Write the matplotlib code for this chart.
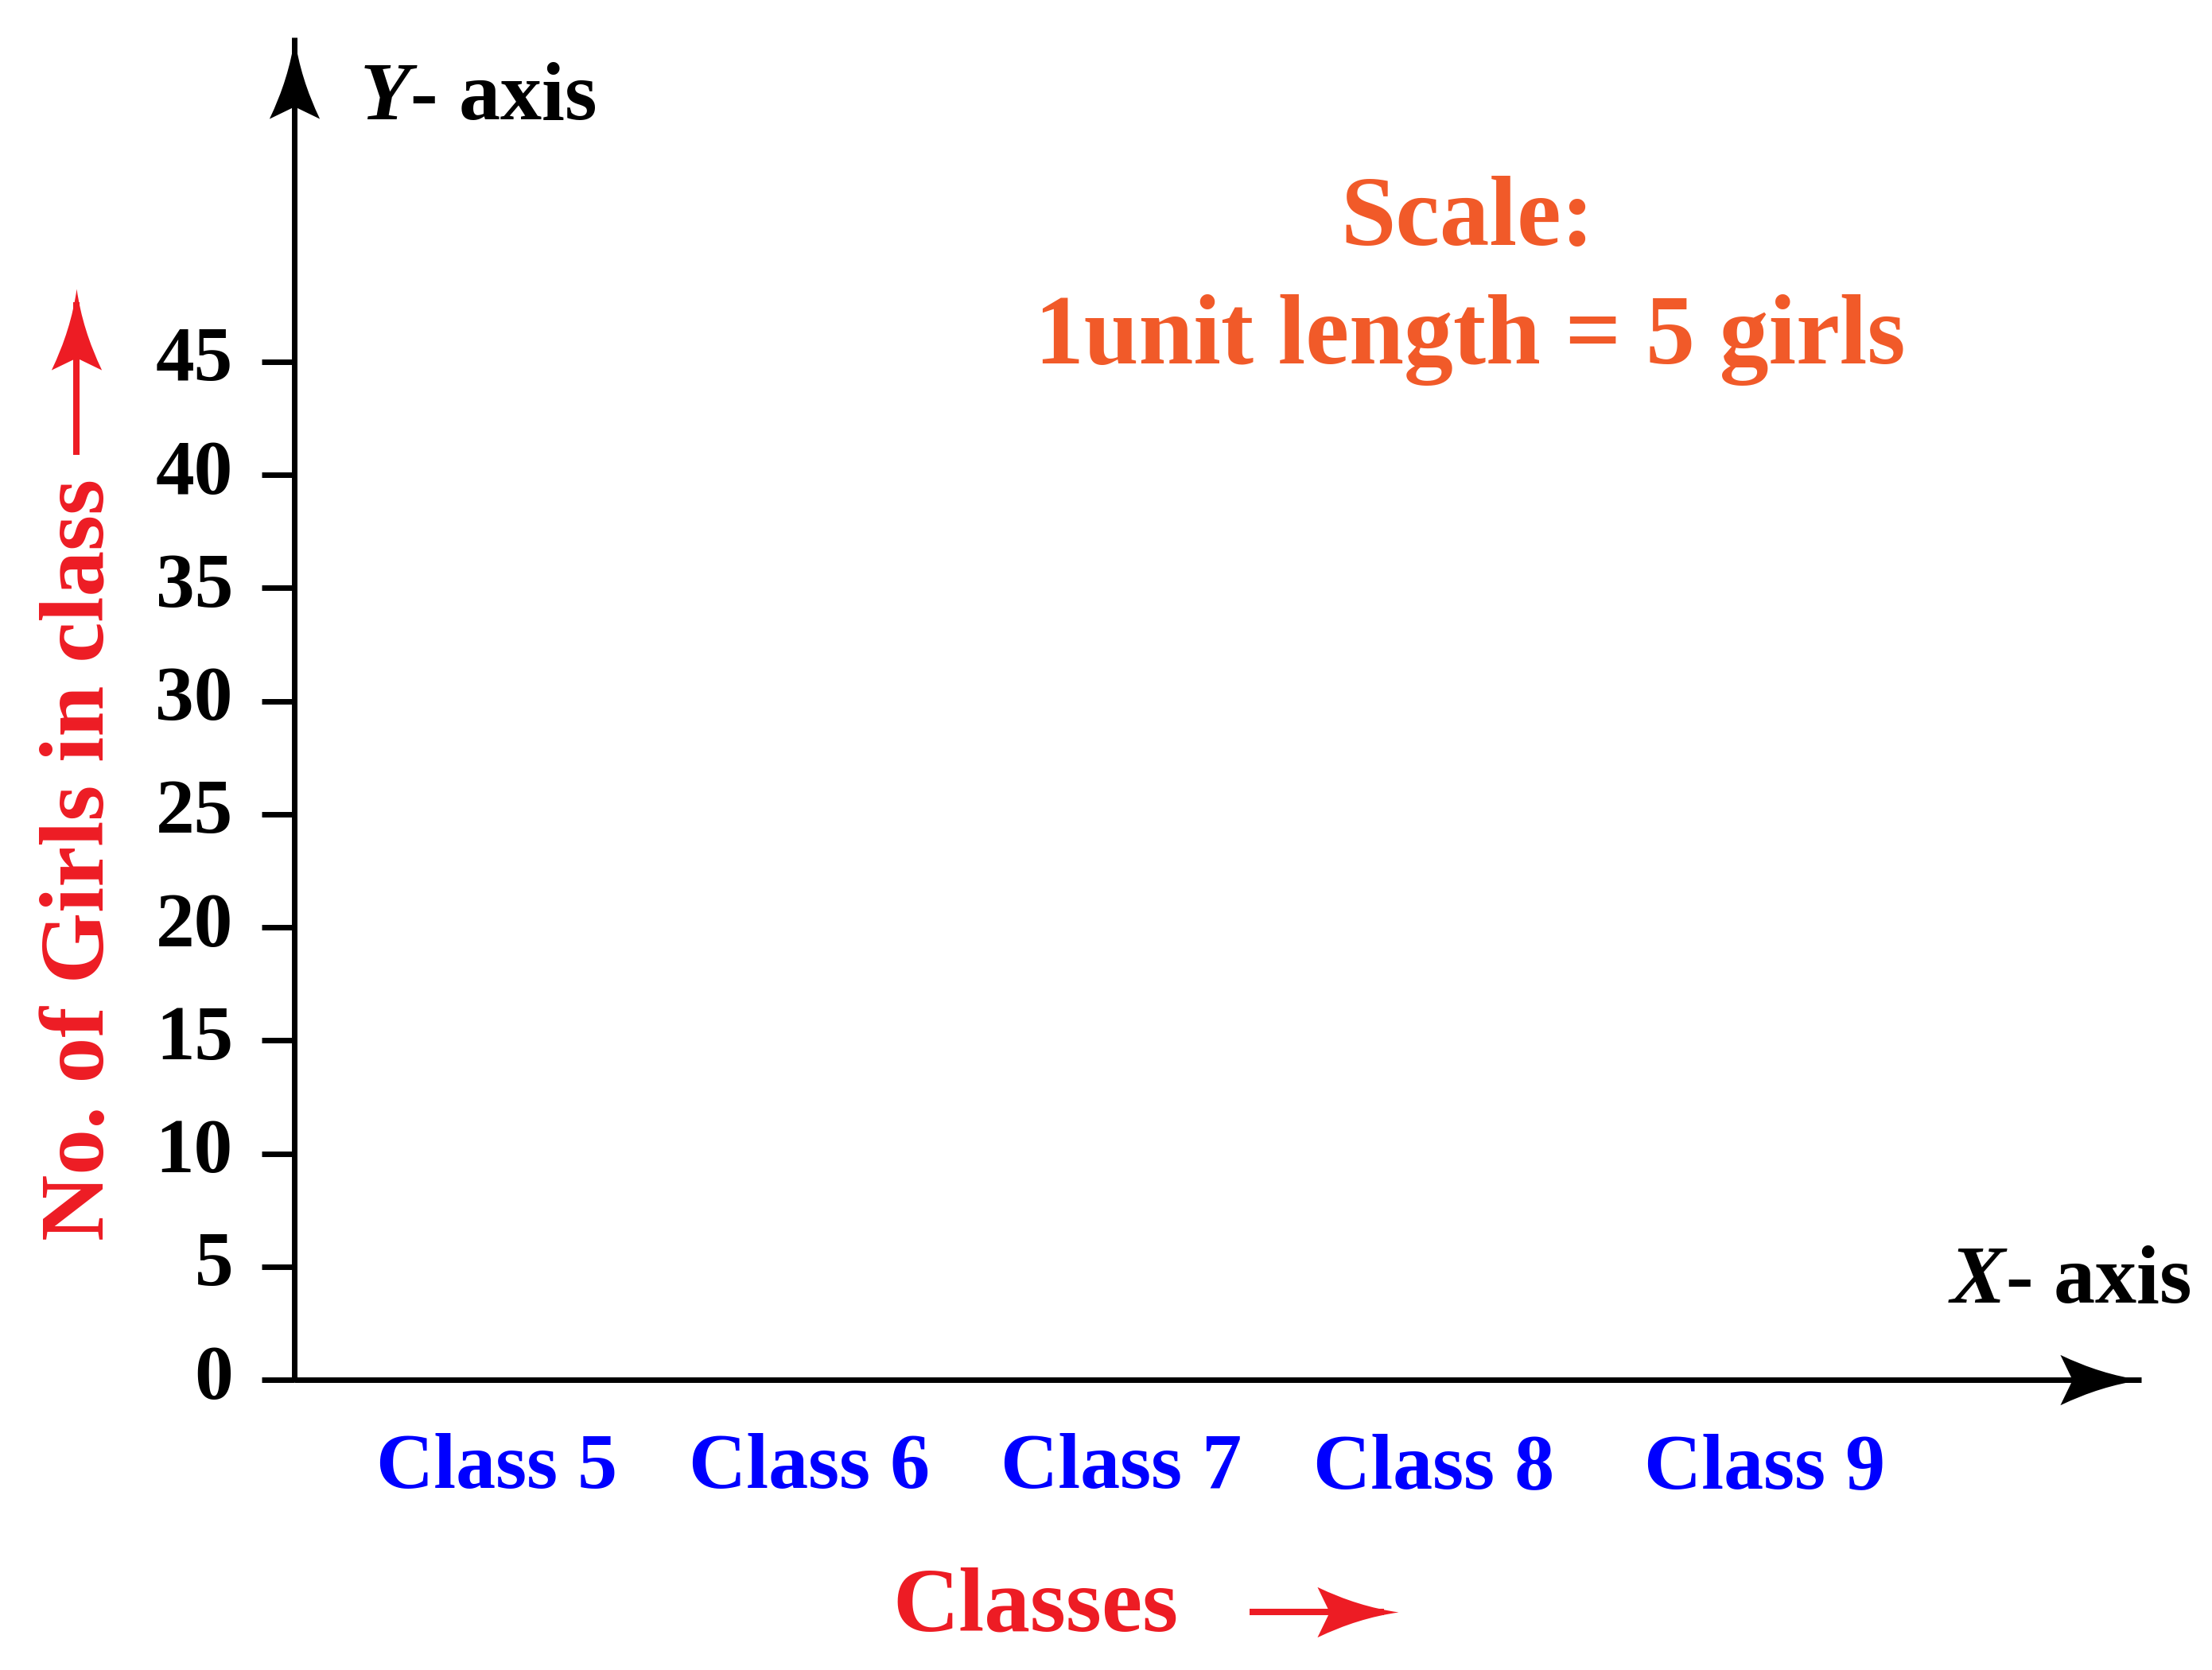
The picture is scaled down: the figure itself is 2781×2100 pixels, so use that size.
import numpy as np
import matplotlib
matplotlib.use("Agg")
import matplotlib.pyplot as plt
from matplotlib.path import Path

plt.rcParams['font.family'] = ['Liberation Serif', 'DejaVu Serif']
plt.rcParams['font.weight'] = 'bold'
plt.rcParams['mathtext.fontset'] = 'custom'
plt.rcParams['mathtext.it'] = 'Liberation Serif:italic:bold'
plt.rcParams['mathtext.rm'] = 'Liberation Serif:bold'
plt.rcParams['mathtext.bf'] = 'Liberation Serif:bold'

# ---- data ----
categories = ["Class 5", "Class 6", "Class 7", "Class 8", "Class 9"]
y_ticks = [0, 5, 10, 15, 20, 25, 30, 35, 40, 45]
scale_title = "Scale:"
scale_text = "1unit length = 5 girls"
x_label = "Classes"
y_label = "No. of Girls in class"

# layout
W, H = 2781, 2100
def fx(px): return px / W
def fy(py): return 1 - py / H

x_pos = [0, 1, 2, 3, 4.06]
RED = '#ED1C24'
ORANGE = '#F15A29'
BLUE = '#0000FF'

fig = plt.figure(figsize=(W / 100, H / 100), dpi=100)
fig.patch.set_facecolor('white')

ax = fig.add_axes([fx(370), fy(1735), fx(2692) - fx(370), fy(47) - fy(1735)])
ax.set_facecolor('none')
ax.set_ylim(0, 59.34)
ax.set_xlim(-0.6497, 5.266)
for s in ['top', 'right']:
    ax.spines[s].set_visible(False)
for s in ['left', 'bottom']:
    ax.spines[s].set_linewidth(5)
    ax.spines[s].set_color('black')
    ax.spines[s].set_capstyle('butt')
# fill the corner square
ax.plot([0], [0], marker='s', ms=5, mew=0, color='black',
        transform=ax.transAxes, clip_on=False)

ax.set_yticks(y_ticks)
ax.set_yticklabels([str(v) for v in y_ticks])
ax.tick_params(axis='y', length=29.5, width=5, pad=26, labelsize=70, color='black')
ax.set_xticks(x_pos)
ax.set_xticklabels(categories)
ax.tick_params(axis='x', length=0, pad=48, labelsize=72, labelcolor=BLUE)
for lab in ax.get_yticklabels():
    lab.set_fontweight('bold')
    lab.set_verticalalignment('center')
for lab in ax.get_xticklabels():
    lab.set_fontweight('bold')

# notched arrowhead marker (tip at origin, pointing +x)
def head_path(angle=0):
    verts = np.array([
        [0, 0], [-0.5, 0.07], [-1, 0.31],
        [-0.85, 0],
        [-1, -0.31], [-0.5, -0.07], [0, 0], [0, 0]])
    codes = [Path.MOVETO, Path.CURVE3, Path.CURVE3, Path.LINETO,
             Path.LINETO, Path.CURVE3, Path.CURVE3, Path.CLOSEPOLY]
    t = np.deg2rad(angle)
    R = np.array([[np.cos(t), -np.sin(t)], [np.sin(t), np.cos(t)]])
    return Path(verts @ R.T, codes)

MS = 147
ax.plot([1], [0], marker=head_path(0), ms=MS, color='black', mew=0,
        transform=ax.transAxes, clip_on=False)
ax.plot([0], [1], marker=head_path(90), ms=MS, color='black', mew=0,
        transform=ax.transAxes, clip_on=False)

# overlay for decorations in pixel coordinates
deco = fig.add_axes([0, 0, 1, 1])
deco.set_xlim(0, W)
deco.set_ylim(H, 0)
deco.axis('off')
deco.patch.set_visible(False)

deco.plot([1571, 1740], [2027, 2027], color=RED, lw=5.8, solid_capstyle='butt')
deco.plot([1758], [2027], marker=head_path(0), ms=MS, color=RED, mew=0)
deco.plot([96, 96], [572, 380], color=RED, lw=5.8, solid_capstyle='butt')
deco.plot([96], [363], marker=head_path(90), ms=MS, color=RED, mew=0)

deco.text(452, 150, r"$Y$- axis", fontsize=75, fontweight='bold', color='black',
          ha='left', va='baseline')
deco.text(2755, 1638, r"$X$- axis", fontsize=75, fontweight='bold', color='black',
          ha='right', va='baseline')
deco.text(1845, 308, scale_title, fontsize=90, fontweight='bold', color=ORANGE,
          ha='center', va='baseline')
deco.text(1848, 457, scale_text, fontsize=89, fontweight='bold', color=ORANGE,
          ha='center', va='baseline')
deco.text(1122, 2051, x_label, fontsize=83, fontweight='bold', color=RED,
          ha='left', va='baseline')
deco.text(130, 1081, y_label, fontsize=83, fontweight='bold', color=RED,
          ha='center', va='baseline', rotation=90, rotation_mode='anchor')

fig.savefig('out.png', dpi=100, facecolor='white')
